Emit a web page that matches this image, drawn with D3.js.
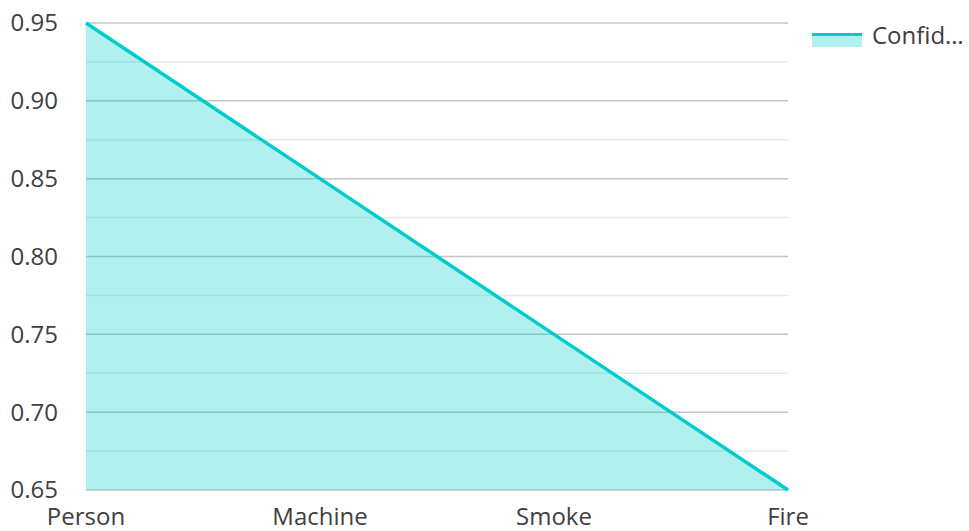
<!DOCTYPE html>
<html>
<head>
<meta charset="utf-8">
<script src="https://cdn.jsdelivr.net/npm/d3@7"></script>
<style>
  html, body { margin: 0; padding: 0; background: #fff; }
  svg text { font-family: "Open Sans", sans-serif; fill: #404040; }
</style>
</head>
<body>
<svg id="chart" width="969" height="531"></svg>
<script>
const categories = ["Person", "Machine", "Smoke", "Fire"];
const confidence = [0.95, 0.85, 0.75, 0.65];
const seriesName = "Confidence";
const majorTicks = [0.65, 0.70, 0.75, 0.80, 0.85, 0.90, 0.95];
const minorTicks = [0.675, 0.725, 0.775, 0.825, 0.875, 0.925];

const svg = d3.select("#chart");
const margin = { left: 86, right: 181, top: 23, bottom: 41 };
const W = 969, H = 531;

const x = d3.scalePoint().domain(categories).range([margin.left, W - margin.right]);
const y = d3.scaleLinear().domain([0.65, 0.95]).range([H - margin.bottom, margin.top]);

const color = "#00cccc";

// gridlines
svg.append("g").selectAll("line.minor").data(minorTicks).join("line")
  .attr("x1", margin.left).attr("x2", W - margin.right)
  .attr("y1", d => y(d)).attr("y2", d => y(d))
  .attr("stroke", "#e8e8e8").attr("stroke-width", 1.5);
svg.append("g").selectAll("line.major").data(majorTicks).join("line")
  .attr("x1", margin.left).attr("x2", W - margin.right)
  .attr("y1", d => y(d)).attr("y2", d => y(d))
  .attr("stroke", "#c4c4c4").attr("stroke-width", 1.5);

const data = categories.map((c, i) => ({ c, v: confidence[i] }));

// area + line
svg.append("path").datum(data)
  .attr("d", d3.area().x(d => x(d.c)).y0(y(0.65)).y1(d => y(d.v)))
  .attr("fill", color).attr("fill-opacity", 0.3);
svg.append("path").datum(data)
  .attr("d", d3.line().x(d => x(d.c)).y(d => y(d.v)))
  .attr("fill", "none").attr("stroke", color).attr("stroke-width", 3.5);

// y axis labels
svg.append("g").selectAll("text").data(majorTicks).join("text")
  .attr("x", 58).attr("y", d => y(d))
  .attr("dy", "0.35em").attr("text-anchor", "end")
  .style("font-size", "24px")
  .text(d => d3.format(".2f")(d));

// x axis labels
svg.append("g").selectAll("text").data(categories).join("text")
  .attr("x", d => x(d)).attr("y", H - margin.bottom + 35)
  .attr("text-anchor", "middle")
  .style("font-size", "24px")
  .text(d => d);

// legend
const lg = svg.append("g").attr("transform", "translate(812,33)");
lg.append("rect").attr("x", 0).attr("y", 0).attr("width", 50).attr("height", 14)
  .attr("fill", color).attr("fill-opacity", 0.3);
lg.append("line").attr("x1", 0).attr("x2", 50).attr("y1", 1.5).attr("y2", 1.5)
  .attr("stroke", color).attr("stroke-width", 3);
lg.append("text").attr("x", 60).attr("y", 11)
  .style("font-size", "24px")
  .text(seriesName.slice(0, 6) + "…");
</script>
</body>
</html>
